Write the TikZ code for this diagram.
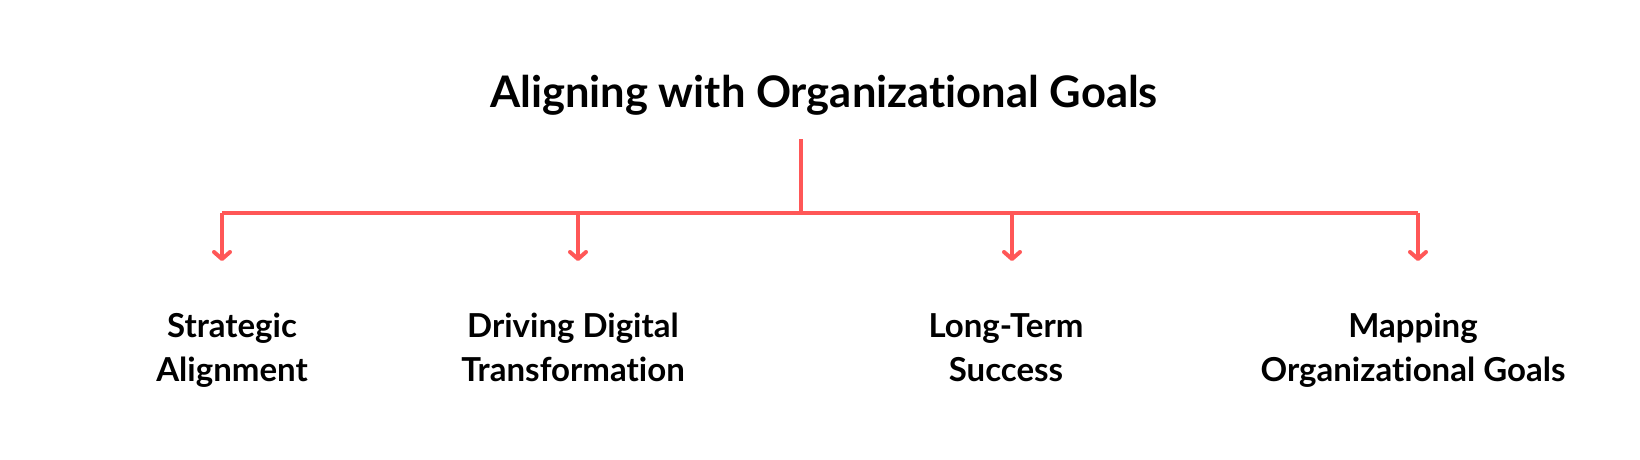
\documentclass[tikz,border=0pt]{standalone}
\usepackage{fontspec}
\setmainfont{Lato}[UprightFont=* Bold, Ligatures=NoCommon]
\usetikzlibrary{arrows.meta}
\definecolor{linered}{HTML}{FF5757}
\tikzset{
  conn/.style={draw=linered, line width=4pt, line join=miter},
  drop/.style={conn, -{Straight Barb[length=7pt,width=16pt,line width=4pt,round]}, shorten >=2pt},
  lbl/.style={align=center, font=\fontsize{33}{44}\selectfont, inner sep=0pt, anchor=base},
  ttl/.style={font=\fontsize{43.5}{50}\selectfont, inner sep=0pt, anchor=base}
}
\begin{document}
\begin{tikzpicture}[x=1pt,y=-1pt]
\useasboundingbox (0,0) rectangle (1640,460);
\node[ttl] (title) at (824,107) {Aligning with Organizational Goals};
\coordinate (stem) at (801,139);
\coordinate (hub) at (801,213);
\coordinate (b1) at (222,213);
\coordinate (b2) at (578,213);
\coordinate (b3) at (1012,213);
\coordinate (b4) at (1418,213);
\coordinate (e1) at (222,263);
\coordinate (e2) at (578,263);
\coordinate (e3) at (1012,263);
\coordinate (e4) at (1418,263);
\node[lbl] (n1) at (232,381) {Strategic\\Alignment};
\node[lbl] (n2) at (573,381) {Driving Digital\\Transformation};
\node[lbl] (n3) at (1006,381) {Long-Term\\Success};
\node[lbl] (n4) at (1413,381) {Mapping\\Organizational Goals};
\draw[conn] (stem) -- (hub);
\draw[conn] (b1) -- (b4);
\draw[drop] (b1) -- (e1);
\draw[drop] (b2) -- (e2);
\draw[drop] (b3) -- (e3);
\draw[drop] (b4) -- (e4);
\end{tikzpicture}
\end{document}
